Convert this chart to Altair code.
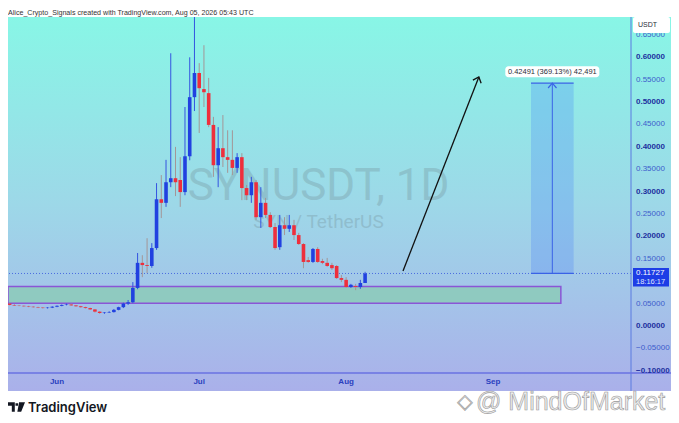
import math
import altair as alt
import pandas as pd

# ---------------- data ----------------
start_date = "2026-05-22"
opens = [0.050, 0.047, 0.046, 0.045, 0.044, 0.043, 0.042, 0.041, 0.040, 0.041,
         0.043, 0.045, 0.047, 0.048, 0.046, 0.044, 0.042, 0.040, 0.037, 0.032,
         0.029, 0.030, 0.031, 0.036, 0.042, 0.050, 0.053, 0.085, 0.141, 0.136,
         0.134, 0.174, 0.283, 0.275, 0.321, 0.330, 0.326, 0.299, 0.379, 0.511,
         0.565, 0.529, 0.520, 0.449, 0.359, 0.397, 0.377, 0.371, 0.353, 0.377,
         0.308, 0.292, 0.321, 0.243, 0.275, 0.248, 0.221, 0.176, 0.225, 0.217,
         0.225, 0.203, 0.183, 0.147, 0.143, 0.172, 0.145, 0.141, 0.136, 0.134,
         0.107, 0.103, 0.087, 0.089, 0.087, 0.096]
highs = [0.052, 0.049, 0.047, 0.046, 0.045, 0.044, 0.043, 0.042, 0.042, 0.044,
         0.046, 0.048, 0.050, 0.050, 0.047, 0.045, 0.043, 0.041, 0.038, 0.033,
         0.031, 0.033, 0.038, 0.043, 0.052, 0.058, 0.098, 0.163, 0.158, 0.196,
         0.185, 0.319, 0.337, 0.371, 0.609, 0.400, 0.377, 0.489, 0.600, 0.720,
         0.587, 0.627, 0.554, 0.467, 0.444, 0.471, 0.437, 0.437, 0.386, 0.386,
         0.315, 0.333, 0.326, 0.310, 0.286, 0.254, 0.230, 0.248, 0.243, 0.248,
         0.237, 0.208, 0.185, 0.154, 0.174, 0.176, 0.150, 0.152, 0.141, 0.136,
         0.114, 0.109, 0.094, 0.094, 0.103, 0.121]
lows = [0.046, 0.045, 0.044, 0.043, 0.042, 0.041, 0.040, 0.039, 0.039, 0.040,
        0.042, 0.044, 0.046, 0.045, 0.043, 0.041, 0.039, 0.036, 0.030, 0.027,
        0.027, 0.029, 0.030, 0.035, 0.040, 0.047, 0.051, 0.082, 0.109, 0.118,
        0.130, 0.170, 0.241, 0.266, 0.310, 0.290, 0.266, 0.292, 0.370, 0.480,
        0.431, 0.489, 0.444, 0.333, 0.310, 0.355, 0.342, 0.337, 0.342, 0.281,
        0.281, 0.275, 0.237, 0.219, 0.241, 0.219, 0.170, 0.170, 0.203, 0.210,
        0.192, 0.181, 0.129, 0.141, 0.141, 0.141, 0.138, 0.132, 0.125, 0.105,
        0.098, 0.085, 0.085, 0.080, 0.083, 0.096]
closes = [0.047, 0.046, 0.045, 0.044, 0.043, 0.042, 0.041, 0.040, 0.041, 0.043,
          0.045, 0.047, 0.048, 0.046, 0.044, 0.042, 0.040, 0.037, 0.032, 0.029,
          0.030, 0.031, 0.036, 0.042, 0.050, 0.053, 0.085, 0.141, 0.136, 0.134,
          0.174, 0.283, 0.275, 0.321, 0.330, 0.321, 0.299, 0.379, 0.511, 0.565,
          0.531, 0.522, 0.449, 0.359, 0.397, 0.377, 0.371, 0.353, 0.377, 0.308,
          0.292, 0.321, 0.243, 0.275, 0.248, 0.221, 0.174, 0.225, 0.217, 0.225,
          0.203, 0.183, 0.143, 0.143, 0.172, 0.143, 0.141, 0.134, 0.129, 0.107,
          0.103, 0.087, 0.092, 0.087, 0.096, 0.11727]

month_days = [0, 30, 61, 92]            # days after Jun 1
month_labels = ["Jun", "Jul", "Aug", "Sep"]
price_ticks = [-0.10, -0.05, 0.00, 0.05, 0.10, 0.15, 0.20, 0.25, 0.30,
               0.35, 0.40, 0.45, 0.50, 0.55, 0.60, 0.65]

last_price = 0.11727
countdown = "18:16:17"
zone_bottom, zone_top, zone_end_day = 0.051, 0.088, 106.3
arrow_days = [73.0, 89.0]
arrow_prices = [0.123, 0.556]
measure_days = [100.0, 109.0]
measure_prices = [0.11727, 0.54218]
measure_text = "0.42491 (369.13%) 42,491"
header_text = "Alice_Crypto_Signals created with TradingView.com, Aug 05, 2026 05:43 UTC"
wm_main, wm_sub = "SYNUSDT, 1D", "SYN / TetherUS"

x_domain = [-10.34, 121.1]
y_domain = [-0.105, 0.69]
W, H = 623, 356

# ---------------- tables ----------------
dates = pd.date_range(start_date, periods=len(opens), freq="D")
days = (dates - pd.Timestamp("2026-06-01")).days
df = pd.DataFrame({"day": list(days), "open": opens, "high": highs, "low": lows, "close": closes})
df["up"] = [c >= o for o, c in zip(opens, closes)]

ticks_df = pd.DataFrame({"price": price_ticks})
ticks_df["label"] = [f"{p:.5f}".replace("-", "\u2212") for p in price_ticks]
ticks_df["major"] = [round(p * 20) % 2 == 0 for p in price_ticks]
months_df = pd.DataFrame({"day": month_days, "label": month_labels})

BLUE, RED = "#2141e0", "#ee2f3c"
one = pd.DataFrame({"k": [0]})
xs = alt.Scale(domain=x_domain, nice=False, zero=False, padding=0)
ys = alt.Scale(domain=y_domain, nice=False, zero=False, padding=0)

# ---------------- layers ----------------
bg = alt.Chart(one).mark_rect(
    fill=alt.LinearGradient(gradient="linear",
                            stops=[alt.GradientStop(color="#88f6e6", offset=0),
                                   alt.GradientStop(color="#9dd8e8", offset=0.5),
                                   alt.GradientStop(color="#aab0ea", offset=1)],
                            x1=0, x2=0, y1=0, y2=1)
).encode(x=alt.value(0), x2=alt.value(W + 40), y=alt.value(0), y2=alt.value(H + 18))

wm1 = alt.Chart(one).mark_text(text=wm_main, font="Roboto", fontSize=44, color="#6f8a92",
                               opacity=0.3, align="center", baseline="middle").encode(
    x=alt.value(W / 2 - 1), y=alt.value(170))
wm2 = alt.Chart(one).mark_text(text=wm_sub, font="Roboto", fontSize=19, color="#6f8a92",
                               opacity=0.3, align="center", baseline="middle").encode(
    x=alt.value(W / 2 - 1), y=alt.value(205))

zone_df = pd.DataFrame({"x0": [x_domain[0]], "x1": [zone_end_day], "y0": [zone_bottom], "y1": [zone_top]})
zone = alt.Chart(zone_df).mark_rect(fill="#8fcac0", stroke="#8a55d6", strokeWidth=1.5).encode(
    x=alt.X("x0:Q", scale=xs, axis=None), x2="x1:Q",
    y=alt.Y("y0:Q", scale=ys, axis=None), y2="y1:Q")

lp_df = pd.DataFrame({"price": [last_price], "label": [f"{last_price:.5f}"], "cd": [countdown]})
price_line = alt.Chart(lp_df).mark_rule(strokeDash=[1, 2], color="#4a6be0", strokeWidth=1).encode(
    y=alt.Y("price:Q", scale=ys, axis=None))

m_df = pd.DataFrame({"x0": [measure_days[0]], "x1": [measure_days[1]],
                     "y0": [measure_prices[0]], "y1": [measure_prices[1]],
                     "xm": [(measure_days[0] + measure_days[1]) / 2], "txt": [measure_text]})
m_box = alt.Chart(m_df).mark_rect(fill="#2962ff", fillOpacity=0.2).encode(
    x=alt.X("x0:Q", scale=xs, axis=None), x2="x1:Q",
    y=alt.Y("y0:Q", scale=ys, axis=None), y2="y1:Q")
edge_df = pd.DataFrame({"x0": [measure_days[0]] * 2, "x1": [measure_days[1]] * 2, "y": measure_prices})
m_edges = alt.Chart(edge_df).mark_rule(color="#3a62e6", strokeWidth=1.2).encode(
    x=alt.X("x0:Q", scale=xs, axis=None), x2="x1:Q", y=alt.Y("y:Q", scale=ys, axis=None))
m_vline = alt.Chart(m_df).mark_rule(color="#3a62e6", strokeWidth=1).encode(
    x=alt.X("xm:Q", scale=xs, axis=None), y=alt.Y("y0:Q", scale=ys, axis=None), y2="y1:Q")
CHEVRON = "M -0.7 0.8 L 0 0 L 0.7 0.8"
m_head = alt.Chart(m_df).mark_point(shape=CHEVRON, filled=False, size=144,
                                    strokeWidth=1.2, color="#3a62e6", opacity=1).encode(
    x=alt.X("xm:Q", scale=xs, axis=None), y=alt.Y("y1:Q", scale=ys, axis=None))
m_lbox = alt.Chart(m_df).mark_rect(fill="white", cornerRadius=3, xOffset=-47, x2Offset=47,
                                   yOffset=-17, y2Offset=-6).encode(
    x=alt.X("xm:Q", scale=xs, axis=None), x2="xm:Q",
    y=alt.Y("y1:Q", scale=ys, axis=None), y2="y1:Q")
m_ltext = alt.Chart(m_df).mark_text(font="Liberation Sans", fontSize=7.5,
                                    color="#2a2e39", dy=-11.5, baseline="middle").encode(
    x=alt.X("xm:Q", scale=xs, axis=None), y=alt.Y("y1:Q", scale=ys, axis=None), text="txt:N")

wicks = alt.Chart(df).mark_rule(strokeWidth=1, clip=True).encode(
    x=alt.X("day:Q", scale=xs, axis=None),
    y=alt.Y("low:Q", scale=ys, axis=None), y2="high:Q",
    color=alt.condition("datum.up", alt.value("#3454e0"), alt.value("#a39697")))
bodies = alt.Chart(df).mark_bar(size=3.6, clip=True).encode(
    x=alt.X("day:Q", scale=xs, axis=None),
    y=alt.Y("open:Q", scale=ys, axis=None), y2="close:Q",
    color=alt.condition("datum.up", alt.value(BLUE), alt.value(RED)))

arrow_df = pd.DataFrame({"day": arrow_days, "price": arrow_prices})
ppd = W / (x_domain[1] - x_domain[0])
ppu = H / (y_domain[1] - y_domain[0])
arrow_angle = math.degrees(math.atan2((arrow_days[1] - arrow_days[0]) * ppd,
                                      (arrow_prices[1] - arrow_prices[0]) * ppu))
arrow_line = alt.Chart(arrow_df).mark_line(color="#111111", strokeWidth=1.3).encode(
    x=alt.X("day:Q", scale=xs, axis=None), y=alt.Y("price:Q", scale=ys, axis=None))
arrow_head = alt.Chart(arrow_df.tail(1)).mark_point(shape=CHEVRON, filled=False,
                                                    size=160, strokeWidth=1.3, color="#111111",
                                                    opacity=1, angle=round(arrow_angle, 2)).encode(
    x=alt.X("day:Q", scale=xs, axis=None), y=alt.Y("price:Q", scale=ys, axis=None))

# frame lines
vsep = alt.Chart(one).mark_rule(color="#5a7be0", strokeWidth=1).encode(
    x=alt.value(W), y=alt.value(0), y2=alt.value(H + 18))
hsep = alt.Chart(one).mark_rule(color="#6a72e2", strokeWidth=1.6).encode(
    x=alt.value(0), x2=alt.value(W + 40), y=alt.value(H))

# time scale labels
month_text = alt.Chart(months_df).mark_text(font="Liberation Sans", fontSize=8, fontWeight="bold",
                                            color="#2a3fbf", baseline="middle").encode(
    x=alt.X("day:Q", scale=xs, axis=None), y=alt.value(H + 9), text="label:N")

# price scale labels
major_labels = alt.Chart(ticks_df).transform_filter("datum.major").mark_text(
    font="Liberation Sans", fontSize=8, fontWeight="bold", color="#1c2f9e",
    align="left", baseline="middle").encode(
    x=alt.value(W + 5), y=alt.Y("price:Q", scale=ys, axis=None), text="label:N")
minor_labels = alt.Chart(ticks_df).transform_filter("!datum.major").mark_text(
    font="Liberation Sans", fontSize=8, color="#3d5ccc",
    align="left", baseline="middle").encode(
    x=alt.value(W + 5), y=alt.Y("price:Q", scale=ys, axis=None), text="label:N")

usdt_box = alt.Chart(one).mark_rect(fill="white", cornerRadius=2).encode(
    x=alt.value(W + 2), x2=alt.value(W + 39), y=alt.value(0), y2=alt.value(16))
usdt_txt = alt.Chart(one).mark_text(text="USDT", font="Liberation Sans", fontSize=7, color="#2a2e39",
                                    align="left", baseline="middle").encode(x=alt.value(W + 7), y=alt.value(7.5))
p_box = alt.Chart(lp_df).mark_rect(fill="#1e3de6", yOffset=-5.5, y2Offset=13).encode(
    x=alt.value(W + 2), x2=alt.value(W + 38), y=alt.Y("price:Q", scale=ys, axis=None), y2="price:Q")
p_txt = alt.Chart(lp_df).mark_text(font="Liberation Sans", fontSize=8,
                                   color="white", align="left", baseline="middle").encode(
    x=alt.value(W + 5), y=alt.Y("price:Q", scale=ys, axis=None), text="label:N")
c_txt = alt.Chart(lp_df).mark_text(font="Liberation Sans", fontSize=7.5, color="#dfe6ff",
                                   align="left", baseline="middle", dy=8.5).encode(
    x=alt.value(W + 5), y=alt.Y("price:Q", scale=ys, axis=None), text="cd:N")

# page texts
header = alt.Chart(one).mark_text(text=header_text, font="Liberation Sans", fontSize=7.1, color="#333333",
                                  align="left", baseline="middle").encode(x=alt.value(0), y=alt.value(-4.5))
logo = alt.Chart(one).mark_point(
    shape="M -1 -0.55 L -0.2 -0.55 L -0.2 0.55 L -0.55 0.55 L -0.55 -0.15 L -1 -0.15 Z "
          "M -0.12 -0.45 L 0.18 -0.45 L 0.18 -0.15 L -0.12 -0.15 Z "
          "M 0.3 -0.55 L 1 -0.55 L 0.55 0.55 L 0.1 0.55 Z",
    filled=True, size=290, color="#131722", opacity=1).encode(x=alt.value(8.5), y=alt.value(390))
brand = alt.Chart(one).mark_text(text="TradingView", font="Inter", fontSize=13, fontWeight=600,
                                 color="#131722", align="left", baseline="middle").encode(
    x=alt.value(20), y=alt.value(390.5))
mark_wm = alt.Chart(one).mark_text(text="@ MindOfMarket", font="Liberation Sans", fontSize=25,
                                   fill="#ececec", stroke="#9a9a9a", strokeWidth=0.6,
                                   align="left", baseline="middle").encode(x=alt.value(468), y=alt.value(385))
mark_icon = alt.Chart(one).mark_text(text="\u25c7", font="DejaVu Sans", fontSize=20,
                                     fill="#ececec", stroke="#9a9a9a", strokeWidth=0.6,
                                     align="center", baseline="middle").encode(x=alt.value(457), y=alt.value(385))

chart = alt.layer(
    bg, wm1, wm2, zone, price_line, m_box, m_edges, m_vline, m_head,
    wicks, bodies, arrow_line, arrow_head, m_lbox, m_ltext,
    vsep, hsep, month_text, major_labels, minor_labels, usdt_box, usdt_txt, p_box, p_txt, c_txt,
    header, logo, brand, mark_icon, mark_wm
).properties(
    width=W, height=H,
    padding={"left": 0, "top": 9, "right": 40, "bottom": 48},
    autosize=alt.AutoSizeParams(type="none"),
    background="white",
).configure_view(stroke=None)

chart.save("out.html", embed_options={"renderer": "svg", "actions": False})
